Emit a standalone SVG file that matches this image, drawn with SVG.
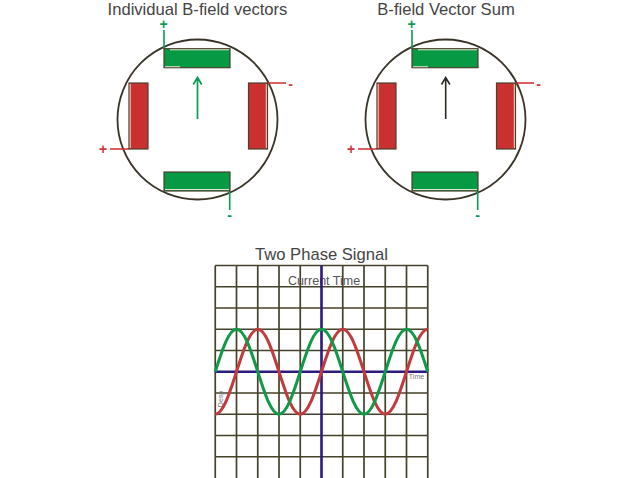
<svg xmlns="http://www.w3.org/2000/svg" width="638" height="478" viewBox="0 0 638 478">
<style>
text{font-family:"Liberation Sans",Arial,sans-serif;fill:#444}
.title{font-size:16.6px;text-anchor:middle}
.ring{fill:none;stroke:#3a3328;stroke-width:1.8}
.g{fill:#069a44;stroke:#4a4030;stroke-width:1.2}
.r{fill:#c9302f;stroke:#4a4030;stroke-width:1.2}
.hl{stroke:#e8e2cc;stroke-width:1;fill:none}
.gl{stroke:#0a9a55;stroke-width:1.6;fill:none}
.rl{stroke:#d0373a;stroke-width:1.6;fill:none}
.sg{font-weight:bold;text-anchor:middle}
.gr{stroke:#45422a;stroke-width:1.7;fill:none}
</style>
<defs>
<g id="coils">
<circle class="ring" cx="197.500" cy="119.500" r="80"/>
<path class="gl" d="M164 49V30"/><path class="gl" d="M229.700 191V210"/>
<path class="rl" d="M267.500 83H286"/><path class="rl" d="M129 149H110"/>
<rect class="g" x="164" y="48.700" width="66" height="19"/>
<rect class="g" x="164" y="172" width="66" height="19"/>
<rect class="r" x="129" y="83" width="19" height="66"/>
<rect class="r" x="248.500" y="83" width="19" height="66"/>
<path class="hl" d="M170 49.800H229M165 66.700H180M165 189.500H229M130.200 84V148M266.300 84V148"/>
<text class="sg" x="163.700" y="29" style="fill:#0a9a55;font-size:14px">+</text>
<text class="sg" x="229.700" y="220" style="fill:#0a9a55;font-size:14px">-</text>
<text class="sg" x="103" y="153.500" style="fill:#d0373a;font-size:14px">+</text>
<text class="sg" x="290.500" y="89" style="fill:#d0373a;font-size:14px">-</text>
</g>
</defs>
<text class="title" x="197.500" y="15.200">Individual B-field vectors</text>
<text class="title" x="446" y="15.200">B-field Vector Sum</text>
<g id="left-coils"><use href="#coils"/></g>
<g id="right-coils"><use href="#coils" x="248"/></g>
<g id="connectors">
<path d="M197.500 119V78M193.300 84.500L197.500 77.500L201.700 84.500" fill="none" stroke="#0a9a55" stroke-width="1.700"/>
<path d="M445.700 119V78M441.500 84.500L445.700 77.500L449.900 84.500" fill="none" stroke="#2b2a20" stroke-width="1.600"/>
</g>
<text x="321.500" y="259.500" style="font-size:16.600px;text-anchor:middle">Two Phase Signal</text>
<g id="chart">
<path class="gr" d="M215.250 265.500H427.750M215.250 286.750H427.750M215.250 308H427.750M215.250 329.250H427.750M215.250 350.500H427.750M215.250 393H427.750M215.250 414.250H427.750M215.250 435.500H427.750M215.250 456.750H427.750M215.250 265.500V478M236.500 265.500V478M257.750 265.500V478M279 265.500V478M300.250 265.500V478M342.750 265.500V478M364 265.500V478M385.250 265.500V478M406.500 265.500V478M427.750 265.500V478"/>
<text x="324" y="285" style="font-size:12.500px;text-anchor:middle;fill:#555">Current Time</text>
<path d="M215.250 371.750H427.750M321.500 265.500V478" fill="none" stroke="#2c1a80" stroke-width="2.600"/>
<text x="416.500" y="379" style="font-size:7px;text-anchor:middle;fill:#777">Time</text>
<text transform="translate(222.500 399) rotate(-90)" style="font-size:7px;text-anchor:middle;fill:#777">Desp</text>
<path fill="none" stroke="#c23a3c" stroke-width="3" d="M215.250 414.150c7.690 0 14.320 -20.700 21.250 -42.400c6.930 -21.700 13.560 -42.400 21.250 -42.400c7.690 0 14.320 20.700 21.250 42.400c6.930 21.700 13.560 42.400 21.250 42.400c7.690 0 14.320 -20.700 21.250 -42.400c6.930 -21.700 13.560 -42.400 21.250 -42.400c7.690 0 14.320 20.700 21.250 42.400c6.930 21.700 13.560 42.400 21.250 42.400c7.690 0 14.320 -20.700 21.250 -42.400c6.930 -21.700 13.560 -42.400 21.250 -42.400"/>
<path fill="none" stroke="#0f9a48" stroke-width="3" d="M215.250 371.750c6.930 -21.700 13.560 -42.400 21.250 -42.400c7.690 0 14.320 20.700 21.250 42.400c6.930 21.700 13.560 42.400 21.250 42.400c7.690 0 14.320 -20.700 21.250 -42.400c6.930 -21.700 13.560 -42.400 21.250 -42.400c7.690 0 14.320 20.700 21.250 42.400c6.930 21.700 13.560 42.400 21.250 42.400c7.690 0 14.320 -20.700 21.250 -42.400c6.930 -21.700 13.560 -42.400 21.250 -42.400c7.690 0 14.320 20.700 21.250 42.400"/>
</g>
</svg>
